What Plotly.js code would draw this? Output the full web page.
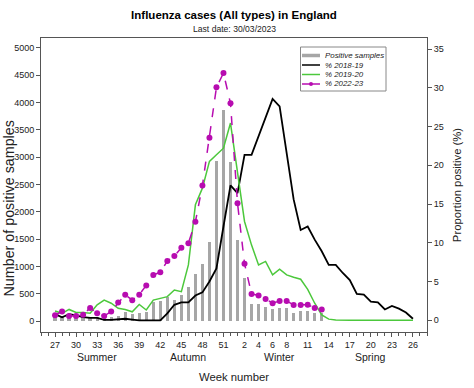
<!DOCTYPE html>
<html>
<head>
<meta charset="utf-8">
<script src="https://cdn.plot.ly/plotly-3.0.1.min.js"></script>
<style>html,body{margin:0;padding:0;background:#fff;}#chart{width:474px;height:388px;}</style>
</head>
<body>
<div id="chart"></div>
<script>
// Week numbers (season week order: 27..52, 1..26)
const weeks = [27,28,29,30,31,32,33,34,35,36,37,38,39,40,41,42,43,44,45,46,47,48,49,50,51,52,
               1,2,3,4,5,6,7,8,9,10,11,12,13,14,15,16,17,18,19,20,21,22,23,24,25,26];
// Positive samples 2022-23 (weeks 27 .. 13)
const positiveSamples = [90,100,90,100,110,80,80,60,70,100,170,130,150,170,350,360,445,380,475,630,855,
                         1040,1450,2935,3865,2920,1480,795,310,310,250,215,245,235,150,190,190,140,140];
// % positive 2018-19
const pct1819 = [0.8,0.4,0.8,0.65,0.4,0.3,0.3,0.05,0.05,0.1,0.2,0.1,0,0,0,0,0.9,2.0,2.3,2.3,3.2,3.6,5.0,6.7,
                 12.1,17.4,16.4,21.35,21.35,23.7,26.1,28.55,27.6,21.6,15.6,11.65,12.1,10.4,8.9,7.15,7.15,
                 6.1,5.2,3.4,3.3,2.4,2.3,1.4,1.85,1.5,1.0,0.2];
// % positive 2019-20
const pct1920 = [1.2,0.9,1.4,1.0,1.0,0.9,2.0,2.6,2.2,1.55,1.4,1.1,2.05,1.33,2.6,2.85,3.05,3.9,3.7,7.15,14.9,
                 17.05,20.5,21.35,22.2,25.45,19.2,12.75,9.7,7.15,7.6,5.85,6.6,5.85,5.55,5.3,4.0,2.2,0.7,0.15,0.05,
                 0,0,0,0,0,0,0,0,0,0,0];
// % positive 2022-23
const pct2223 = [0.65,1.15,0.55,0.55,0.73,1.6,0.9,0.55,1.15,2.3,3.3,2.6,3.3,4.5,5.85,6.2,7.65,8.3,9.35,9.95,
                 12.7,17.4,23.55,30.05,31.9,28.0,15.1,7.3,3.4,3.2,2.75,2.2,2.5,2.5,1.98,1.98,2.0,1.6,1.4];
// Tick labels shown on the x axis
const tickWeeks = [27,30,33,36,39,42,45,48,51,2,4,6,8,11,14,17,20,23,26];
// Season labels and the week they are centred on
const seasons = ['Summer','Autumn','Winter','Spring'];
const seasonWeeks = [33,46,7,20];
// Legend labels
const legendLabels = ['Positive samples','% 2018-19','% 2019-20','% 2022-23'];

const COL = {bar:'#a6a6a6', s1819:'#000000', s1920:'#4cc83c', s2223:'#b70cb0'};
const idx = weeks.map((w,i)=>i);
const xs = arr => arr.map((v,i)=>idx[i]);

// pixel -> paper helpers for layout decorations (plot area: x 41..427, y 38..332)
const PX = x => (x-41)/386;
const PY = y => (332-y)/294;

const FONT = 'Liberation Sans, Arial, sans-serif';
const traces = [
  {type:'bar', x:xs(positiveSamples), y:positiveSamples, name:legendLabels[0],
   marker:{color:COL.bar}, width:0.47, yaxis:'y'},
  {type:'scatter', mode:'lines', x:xs(pct1819), y:pct1819, name:legendLabels[1], yaxis:'y2',
   line:{color:COL.s1819, width:1.8}},
  {type:'scatter', mode:'lines', x:xs(pct1920), y:pct1920, name:legendLabels[2], yaxis:'y2',
   line:{color:COL.s1920, width:1.5}},
  {type:'scatter', mode:'lines+markers', x:xs(pct2223), y:pct2223, name:legendLabels[3], yaxis:'y2',
   line:{color:COL.s2223, width:1.5, dash:'dash'}, marker:{color:COL.s2223, size:6}}
];

// manual compact legend
const legRows = [55.5, 65, 74.5, 84];
const legStyles = [
  {color:COL.bar, width:3.5}, {color:COL.s1819, width:1.5},
  {color:COL.s1920, width:1.5}, {color:COL.s2223, width:1.5}
];
const shapes = [
  {type:'rect', xref:'paper', yref:'paper', x0:PX(300.5), x1:PX(386), y0:PY(91), y1:PY(47),
   line:{color:'#888', width:1}, fillcolor:'#fff', layer:'above'}
];
legRows.forEach((ry,k)=>{
  shapes.push({type:'line', xref:'paper', yref:'paper', x0:PX(302), x1:PX(320), y0:PY(ry), y1:PY(ry),
               line:legStyles[k], layer:'above'});
});
shapes.push({type:'circle', xref:'paper', yref:'paper', x0:PX(309), x1:PX(313), y0:PY(legRows[3]+2),
             y1:PY(legRows[3]-2), fillcolor:COL.s2223, line:{width:0}, layer:'above'});

const annotations = [];
seasons.forEach((s,k)=>annotations.push({text:s, x:weeks.indexOf(seasonWeeks[k]), xref:'x', y:PY(357),
    yref:'paper', yanchor:'middle', xanchor:'center', showarrow:false, font:{size:10.5, color:'#222'}}));
legendLabels.forEach((s,k)=>annotations.push({text:'<i>'+s+'</i>', x:PX(323.5), xref:'paper', y:PY(legRows[k]),
    yref:'paper', xanchor:'left', yanchor:'middle', showarrow:false, borderpad:0,
    font:{size:7.9, color:'#222'}}));
annotations.push({text:'Last date: 30/03/2023', x:0.5, xref:'paper', y:PY(29), yref:'paper',
    xanchor:'center', yanchor:'middle', showarrow:false, font:{size:8.6, color:'#222'}});
annotations.push({text:'Number of positive samples', x:PX(8.5), xref:'paper', y:PY(209), yref:'paper',
    xanchor:'center', yanchor:'middle', textangle:-90, showarrow:false, borderpad:0,
    font:{size:14.3, color:'#222'}});

const layout = {
  width:474, height:388,
  margin:{l:41, r:47, t:38, b:56, pad:0},
  paper_bgcolor:'#fff', plot_bgcolor:'#fff',
  font:{family:FONT, color:'#222', size:9},
  showlegend:false,
  title:{text:'<b>Influenza cases (All types) in England</b>', font:{size:11.5, color:'#000'},
         x:0.5, xref:'paper', xanchor:'center', y:1-15/388, yref:'container', yanchor:'middle'},
  xaxis:{range:[-2,53], tickmode:'array',
         tickvals:tickWeeks.map(w=>weeks.indexOf(w)), ticktext:tickWeeks.map(String),
         ticks:'outside', ticklen:4, tickcolor:'#555', showgrid:false, zeroline:false,
         showline:true, linecolor:'#555', linewidth:1, mirror:true,
         minor:{dtick:1, tick0:0, ticks:'outside', ticklen:3, tickcolor:'#555', showgrid:false},
         tickfont:{size:9, color:'#222'},
         title:{text:'Week number', font:{size:11.3, color:'#222'}, standoff:24}},
  yaxis:{range:[-201,5183], tickmode:'array', tickvals:[0,500,1000,1500,2000,2500,3000,3500,4000,4500,5000],
         ticks:'outside', ticklen:4, tickcolor:'#555', showgrid:false, zeroline:false,
         showline:true, linecolor:'#555', linewidth:1, mirror:true,
         tickfont:{size:9, color:'#222'}},
  yaxis2:{overlaying:'y', side:'right', range:[-1.51,36.42], tickmode:'array',
          tickvals:[0,5,10,15,20,25,30,35], ticks:'outside', ticklen:4, tickcolor:'#555',
          showgrid:false, zeroline:false, showline:false,
          tickfont:{size:9, color:'#222'},
          title:{text:'Proportion positive (%)', font:{size:11.3, color:'#222'}, standoff:10}},
  bargap:0,
  shapes:shapes,
  annotations:annotations
};

Plotly.newPlot('chart', traces, layout, {staticPlot:true, displayModeBar:false});
</script>
</body>
</html>
